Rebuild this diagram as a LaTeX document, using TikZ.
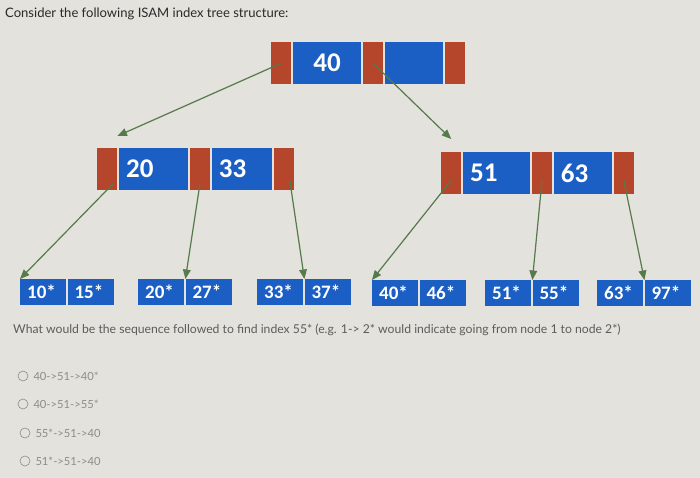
\documentclass[tikz,border=0pt]{standalone}
\usepackage{fontspec}
\setmainfont{Lato}
\newfontfamily\numfont{Carlito}
\usepackage{tikz}
\usetikzlibrary{positioning}
\usetikzlibrary{arrows}
\definecolor{bg}{HTML}{E4E2DC}
\definecolor{ptrred}{HTML}{B5462B}
\definecolor{keyblue}{HTML}{1B5FC4}
\definecolor{linkgreen}{HTML}{557A4B}
\definecolor{txtdark}{HTML}{2A2A2A}
\definecolor{txtgray}{HTML}{5C5C5C}
\definecolor{optgray}{HTML}{8C8C8C}
\tikzstyle{P} = [rectangle,fill=ptrred,minimum width=20pt,minimum height=42pt,inner sep=0pt]
\tikzstyle{K} = [rectangle,fill=keyblue,text=white,minimum height=42pt,inner xsep=7pt,inner ysep=0pt,align=left,font=\numfont\bfseries\fontsize{27}{27}\selectfont]
\tikzstyle{L} = [rectangle,fill=keyblue,text=white,minimum height=26pt,inner xsep=7pt,inner ysep=0pt,text width=32pt,align=left,font=\numfont\bfseries\fontsize{19}{19}\selectfont]
\tikzstyle{link} = [->,draw=linkgreen,line width=1.2pt]
\tikzstyle{radio} = [circle,draw=optgray,line width=0.6pt,minimum size=10pt,inner sep=0pt]
\tikzstyle{opt} = [text=optgray,font=\fontsize{11.2}{13}\selectfont,inner sep=0pt]
\tikzset{>={triangle 45}}

\begin{document}
\begin{tikzpicture}[x=1pt,y=-1pt]
  \fill[bg] (0,0) rectangle (700,478);
  \useasboundingbox (0,0) rectangle (700,478);
  \node[anchor=base west,inner sep=0pt,text=txtdark,font=\fontsize{13.05}{15}\selectfont] (title) at (5,18) {Consider the following ISAM index tree structure:};

  % root
  \node [P,anchor=north west] (r0) at (271,42) {};
  \node [K,text width=54pt,align=center,right=1.5pt of r0] (r40) {40};
  \node [P,right=1.5pt of r40] (r1) {};
  \node [K,text width=44pt,right=1.5pt of r1] (rk) {};
  \node [P,right=1.5pt of rk] (r2) {};

  % left node
  \node [P,anchor=north west] (L0) at (97,148) {};
  \node [K,text width=55pt,right=1.5pt of L0] (l20) {20};
  \node [P,right=1.5pt of l20] (L1) {};
  \node [K,text width=46pt,right=1.5pt of L1] (l33) {33};
  \node [P,right=1.5pt of l33] (L2) {};

  % right node
  \node [P,anchor=north west] (R0) at (441,152) {};
  \node [K,text width=53pt,right=1.5pt of R0] (r51) {51};
  \node [P,right=1.5pt of r51] (R1) {};
  \node [K,text width=44pt,right=1.5pt of R1] (r63) {63};
  \node [P,right=1.5pt of r63] (R2) {};

  % leaves
  \node [L,anchor=north west] (f1a) at (20,279) {10*};
  \node [L,right=1pt of f1a] (f1b) {15*};
  \node [L,anchor=north west] (f2a) at (138,279) {20*};
  \node [L,right=1pt of f2a] (f2b) {27*};
  \node [L,anchor=north west] (f3a) at (257,279) {33*};
  \node [L,right=1pt of f3a] (f3b) {37*};
  \node [L,anchor=north west] (f4a) at (372,280) {40*};
  \node [L,right=1pt of f4a] (f4b) {46*};
  \node [L,anchor=north west] (f5a) at (485,280) {51*};
  \node [L,right=1pt of f5a] (f5b) {55*};
  \node [L,anchor=north west] (f6a) at (597,280) {63*};
  \node [L,right=1pt of f6a] (f6b) {97*};

  \draw [link] (r0.center) -- ([yshift=12pt]L0.north east);
  \draw [link] (r1.center) -- ([yshift=13pt]R0.north);
  \draw [link] ([shift={(-4pt,7pt)}]L0.south east) -- (f1a.north west);
  \draw [link] ([yshift=7pt]L1.south) -- (f2b.north west);
  \draw [link] ([shift={(6pt,10pt)}]L2.south) -- (f3b.north west);
  \draw [link] ([yshift=14pt]R0.south) -- (f4a.north west);
  \draw [link] ([yshift=14pt]R1.south) -- (f5b.north west);
  \draw [link] ([yshift=14pt]R2.south) -- (f6b.north west);

  \node[anchor=base west,inner sep=0pt,text=txtgray,font=\fontsize{12.2}{14}\selectfont] (quest) at (13,333) {What would be the sequence followed to find index 55* (e.g. 1-> 2* would indicate going from node 1 to node 2*)};

  % answers
  \node [radio] (c1) at (23,376) {};
  \node [opt,right=5pt of c1] (o1) {40->51->40*};
  \node [radio] (c2) at (23,404) {};
  \node [opt,right=5pt of c2] (o2) {40->51->55*};
  \node [radio] (c3) at (25,433) {};
  \node [opt,right=5pt of c3] (o3) {55*->51->40};
  \node [radio] (c4) at (25,461) {};
  \node [opt,right=5pt of c4] (o4) {51*->51->40};
\end{tikzpicture}
\end{document}
